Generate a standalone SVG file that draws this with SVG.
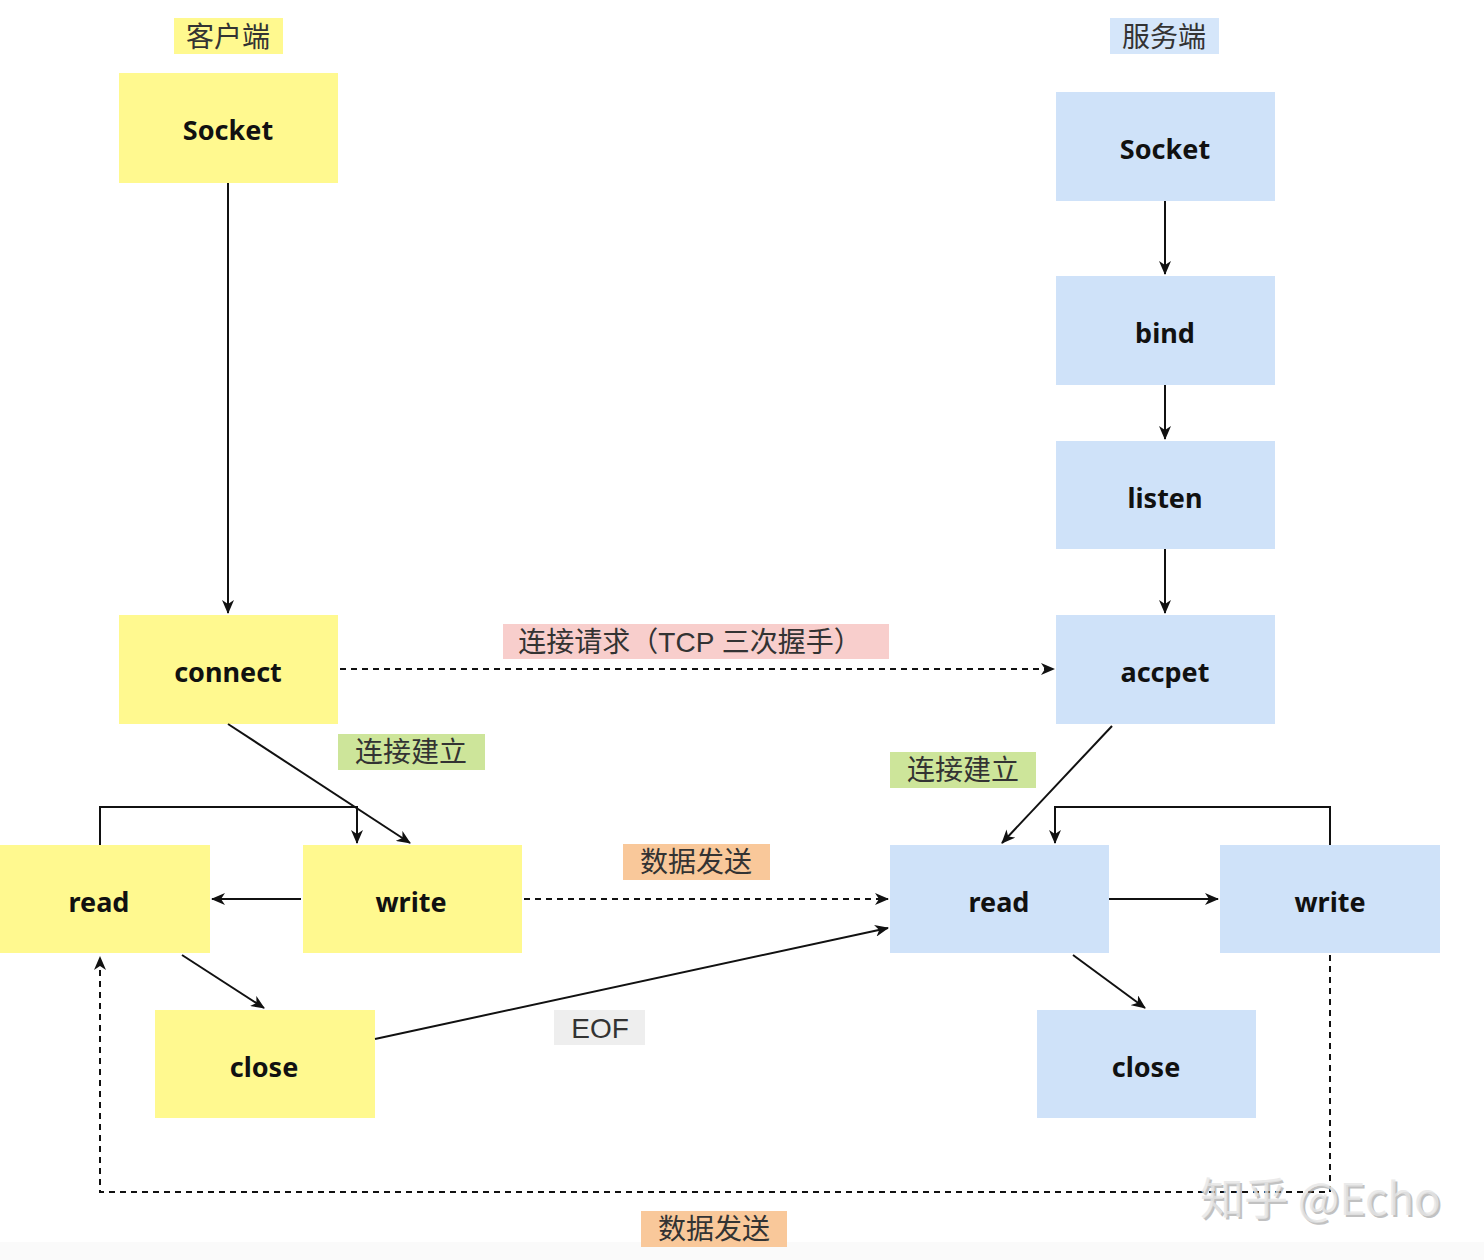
<svg xmlns="http://www.w3.org/2000/svg" width="1484" height="1260" viewBox="0 0 1484 1260">
<style>
.y{fill:#FFF98F}
.b{fill:#CFE2F9}
.nt{font-family:"Noto Sans","DejaVu Sans",sans-serif;font-weight:bold;font-size:27px;fill:#111;text-anchor:middle;dominant-baseline:central}
.lt{font-family:"Liberation Sans","Noto Sans CJK SC",sans-serif;font-size:28px;fill:#333;text-anchor:middle;dominant-baseline:central}
.c{fill:none;stroke:#111;stroke-width:2}
.d{stroke-dasharray:6 5}
</style>
<defs>
<marker id="a" viewBox="0 0 14 12" refX="13" refY="6" markerWidth="14" markerHeight="12" markerUnits="userSpaceOnUse" orient="auto">
<path d="M0,0 L14,6 L0,12 L4,6 z" fill="#111"/>
</marker>
</defs>
<rect width="1484" height="1260" fill="#fff"/>
<rect x="0" y="1242" width="1484" height="18" fill="#fafafa"/>
<g id="labels">
<g id="lbl-client"><rect x="174" y="18" width="109" height="36" fill="#FFF98F"/><text class="lt" x="228" y="37">客户端</text></g>
<g id="lbl-server"><rect x="1110" y="18" width="109" height="36" fill="#D5E6FA"/><text class="lt" x="1164" y="37">服务端</text></g>
<g id="lbl-tcp"><rect x="503" y="624" width="386" height="35" fill="#F8CECC"/><text class="lt" x="690" y="642">连接请求（TCP 三次握手）</text></g>
<g id="lbl-est1"><rect x="338" y="734" width="147" height="36" fill="#CDE59A"/><text class="lt" x="411" y="752">连接建立</text></g>
<g id="lbl-est2"><rect x="890" y="752" width="146" height="36" fill="#CDE59A"/><text class="lt" x="963" y="770">连接建立</text></g>
<g id="lbl-send1"><rect x="623" y="844" width="147" height="36" fill="#F9C89A"/><text class="lt" x="696" y="862">数据发送</text></g>
<g id="lbl-eof"><rect x="554" y="1010" width="91" height="35" fill="#EEEEEE"/><text class="lt" x="600" y="1028">EOF</text></g>
<g id="lbl-send2"><rect x="641" y="1211" width="146" height="36" fill="#F9C89A"/><text class="lt" x="714" y="1229">数据发送</text></g>
</g>
<g id="c-socket"><rect class="y" x="119" y="73" width="219" height="110"/><text class="nt" x="228" y="129">Socket</text></g>
<g id="c-connect"><rect class="y" x="119" y="615" width="219" height="109"/><text class="nt" x="228" y="671">connect</text></g>
<g id="c-read"><rect class="y" x="0" y="845" width="210" height="108"/><text class="nt" x="99" y="901">read</text></g>
<g id="c-write"><rect class="y" x="303" y="845" width="219" height="108"/><text class="nt" x="411" y="901">write</text></g>
<g id="c-close"><rect class="y" x="155" y="1010" width="220" height="108"/><text class="nt" x="264" y="1066">close</text></g>
<g id="s-socket"><rect class="b" x="1056" y="92" width="219" height="109"/><text class="nt" x="1165" y="148">Socket</text></g>
<g id="s-bind"><rect class="b" x="1056" y="276" width="219" height="109"/><text class="nt" x="1165" y="332">bind</text></g>
<g id="s-listen"><rect class="b" x="1056" y="441" width="219" height="108"/><text class="nt" x="1165" y="497">listen</text></g>
<g id="s-accpet"><rect class="b" x="1056" y="615" width="219" height="109"/><text class="nt" x="1165" y="671">accpet</text></g>
<g id="s-read"><rect class="b" x="890" y="845" width="219" height="108"/><text class="nt" x="999" y="901">read</text></g>
<g id="s-write"><rect class="b" x="1220" y="845" width="220" height="108"/><text class="nt" x="1330" y="901">write</text></g>
<g id="s-close"><rect class="b" x="1037" y="1010" width="219" height="108"/><text class="nt" x="1146" y="1066">close</text></g>
<g id="connectors">
<path class="c" d="M228,183 L228,613" marker-end="url(#a)"/>
<path class="c d" d="M340,669 L1054,669" marker-end="url(#a)"/>
<path class="c" d="M228,724 L410,843" marker-end="url(#a)"/>
<path class="c" d="M100,845 L100,807 L357,807 L357,843" marker-end="url(#a)"/>
<path class="c" d="M301,899 L212,899" marker-end="url(#a)"/>
<path class="c" d="M182,955 L264,1008" marker-end="url(#a)"/>
<path class="c" d="M375,1039 L888,928" marker-end="url(#a)"/>
<path class="c d" d="M524,899 L888,899" marker-end="url(#a)"/>
<path class="c" d="M1165,201 L1165,274" marker-end="url(#a)"/>
<path class="c" d="M1165,385 L1165,439" marker-end="url(#a)"/>
<path class="c" d="M1165,549 L1165,613" marker-end="url(#a)"/>
<path class="c" d="M1112,726 L1002,843" marker-end="url(#a)"/>
<path class="c" d="M1330,845 L1330,807 L1055,807 L1055,843" marker-end="url(#a)"/>
<path class="c" d="M1109,899 L1218,899" marker-end="url(#a)"/>
<path class="c" d="M1073,955 L1145,1008" marker-end="url(#a)"/>
<path class="c d" d="M1330,955 L1330,1192 L100,1192 L100,957" marker-end="url(#a)"/>
</g>
<g id="watermark">
<text x="1202" y="1217" font-family="Noto Sans CJK SC,Noto Sans,sans-serif" font-size="44" fill="#999" opacity="0.6">知乎 @Echo</text>
<text x="1200" y="1215" font-family="Noto Sans CJK SC,Noto Sans,sans-serif" font-size="44" fill="#e6e6e6" opacity="0.8">知乎 @Echo</text>
</g>
</svg>
